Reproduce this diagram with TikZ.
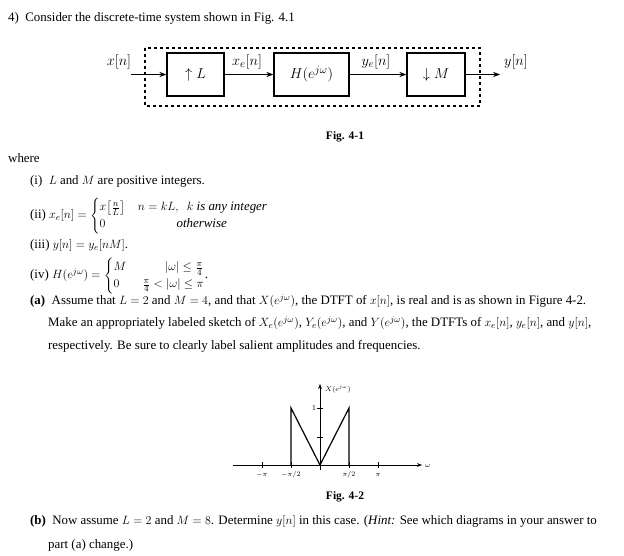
\documentclass[tikz,border=0pt]{standalone}
\usepackage{amsmath}
\usepackage{fontspec}
\setmainfont{Liberation Serif}
\usetikzlibrary{arrows.meta}
\begin{document}
\begin{tikzpicture}[x=1pt,y=-1pt,
  blk/.style={draw,line width=1.3pt,minimum height=43pt,inner sep=0pt,font=\fontsize{15}{16}\selectfont},
  sig/.style={line width=1pt,-{Stealth[length=7pt]}},
  lab/.style={font=\fontsize{15}{16}\selectfont},
  txt/.style={anchor=west,inner sep=0pt,font=\fontsize{12.9}{14}\selectfont},
  ax/.style={line width=0.5pt},
  tk/.style={font=\fontsize{7.5}{8}\selectfont,inner sep=1pt}]
\useasboundingbox (0,0) rectangle (624,556);
\node[txt] (t0) at (8,18) {4)\enspace Consider the discrete-time system shown in Fig. 4.1};
% block diagram
\draw[dashed,line width=1.2pt] (145,48) rectangle (480,106);
\node[blk,minimum width=57pt] (up) at (195.5,74.5) {$\uparrow L$};
\node[blk,minimum width=75pt] (h) at (311.5,74.5) {$H(e^{j\omega})$};
\node[blk,minimum width=58pt] (dn) at (436,74.5) {$\downarrow M$};
\coordinate (in) at (131,74.5);
\coordinate (out) at (500,74.5);
\draw[sig] (in) -- (up);
\draw[sig] (up) -- (h);
\draw[sig] (h) -- (dn);
\draw[sig] (dn) -- (out);
\node[lab] (lx) at (119,62) {$x[n]$};
\node[lab] (lxe) at (247,62) {$x_e[n]$};
\node[lab] (lye) at (376,62) {$y_e[n]$};
\node[lab] (ly) at (516,62) {$y[n]$};
\node[font=\bfseries\fontsize{11.5}{12}\selectfont] (f1) at (345,137) {Fig. 4-1};
\node[txt] (w) at (8,158) {where};
\node[txt] (i1) at (30,181) {(i)\enspace $L$ and $M$ are positive integers.};
\node[txt] (i2) at (30,216) {(ii) $x_e[n]=\begin{cases} x\!\left[\frac{n}{L}\right] & n=kL,\ \ k \textit{ is any integer}\\ 0 & \qquad\quad \textit{otherwise}\end{cases}$};
\node[txt] (i3) at (30,246) {(iii) $y[n]=y_e[nM]$.};
\node[txt] (i4) at (30,276) {(iv) $H(e^{j\omega})=\begin{cases} M & \qquad |\omega|\le\frac{\pi}{4}\\ 0 & \ \frac{\pi}{4}<|\omega|\le\pi\end{cases}$.};
\node[txt] (a1) at (30,301) {\textbf{(a)}\enspace Assume that $L=2$ and $M=4$, and that $X(e^{j\omega})$, the DTFT of $x[n]$, is real and is as shown in Figure 4-2.};
\node[txt] (a2) at (48,323) {Make an appropriately labeled sketch of $X_e(e^{j\omega})$, $Y_e(e^{j\omega})$, and $Y(e^{j\omega})$, the DTFTs of $x_e[n]$, $y_e[n]$, and $y[n]$,};
\node[txt] (a3) at (48,346) {respectively. Be sure to clearly label salient amplitudes and frequencies.};
% plot
\coordinate (xl) at (233,465); \coordinate (xr) at (422,465);
\coordinate (yb) at (320,470); \coordinate (yt) at (320,384);
\draw[ax,-{Stealth[length=5pt]}] (xl) -- (xr);
\draw[ax,-{Stealth[length=5pt]}] (yb) -- (yt);
\foreach \x/\l in {262/{$-\pi$},291/{$-\pi/2$},349/{$\pi/2$},378/{$\pi$}}{
  \draw[ax] (\x,462) -- (\x,468);
  \node[tk] at (\x,475) {\l};}
\draw[ax] (317,408) -- (323,408); \draw[ax] (317,437) -- (323,437);
\node[tk,anchor=east] at (317,408) {1};
\node[tk,anchor=west] at (324,389) {$X(e^{j\omega})$};
\node[tk,anchor=west] at (424,466) {$\omega$};
\draw[line width=1.2pt] (291,465) -- (291,408) -- (320,465) -- (349,408) -- (349,465);
\node[font=\bfseries\fontsize{11.5}{12}\selectfont] (f2) at (345,497) {Fig. 4-2};
\node[txt] (b1) at (30,521) {\textbf{(b)}\enspace Now assume $L=2$ and $M=8$. Determine $y[n]$ in this case. (\textit{Hint:} See which diagrams in your answer to};
\node[txt] (b2) at (48,545) {part (a) change.)};
\end{tikzpicture}
\end{document}
